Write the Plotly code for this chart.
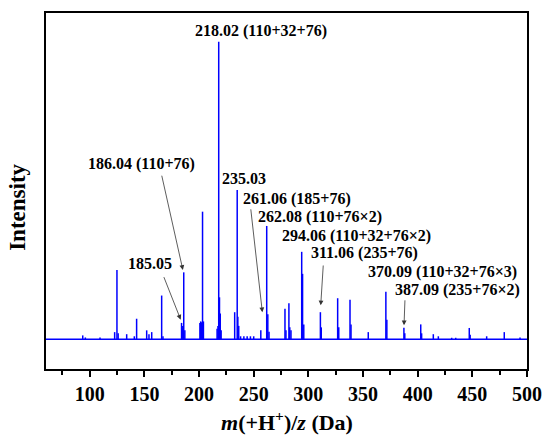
import plotly.graph_objects as go

# ---- data ----
peak_mz = [93.6, 96.0, 109.4, 122.8, 124.9, 126.0, 133.8, 140.8, 142.9, 152.1,
           154.2, 156.7, 165.8, 167.0, 184.0, 184.6, 185.4, 186.0, 187.0, 200.8,
           201.5, 202.2, 203.2, 204.0, 216.5, 217.3, 218.0, 218.7, 219.4, 220.2,
           232.6, 234.9, 235.5, 236.3, 238.0, 241.0, 244.0, 247.0, 250.0, 256.5,
           261.9, 262.9, 264.0, 278.6, 279.5, 282.2, 283.0, 284.1, 293.9, 294.7,
           295.8, 311.0, 311.8, 326.8, 327.8, 338.1, 339.0, 354.8, 370.9, 371.8,
           387.4, 388.2, 402.8, 403.6, 414.3, 418.9, 431.1, 434.8, 447.2, 448.0,
           463.1, 479.2, 493.6]
peak_int = [1.3, 0.6, 0.6, 2.4, 23.3, 2.0, 1.7, 1.0, 6.9, 3.0,
            1.7, 2.4, 14.7, 1.0, 5.5, 4.5, 3.5, 22.5, 3.0, 5.5,
            6.0, 5.7, 42.9, 6.0, 3.5, 4.5, 100.0, 14.1, 8.7, 3.0,
            9.1, 50.2, 7.6, 4.5, 1.0, 1.0, 1.0, 1.0, 1.0, 3.0,
            38.1, 8.4, 2.5, 10.3, 3.0, 12.1, 4.0, 3.0, 29.4, 22.0,
            5.0, 9.1, 4.0, 13.8, 4.0, 13.3, 5.0, 2.4, 16.0, 6.6,
            3.9, 2.0, 5.0, 2.0, 1.7, 1.0, 0.5, 0.5, 3.8, 1.5,
            1.0, 2.4, 0.6]

x_range = [60, 500]
y_range = [-10, 109.7]
tick_vals = [100, 150, 200, 250, 300, 350, 400, 450, 500]
tick_text = ["100", "150", "200", "250", "300", "350", "400", "450", "500"]

label_texts = ["218.02 (110+32+76)", "186.04 (110+76)", "235.03",
               "261.06 (185+76)", "262.08 (110+76×2)", "294.06 (110+32+76×2)",
               "311.06 (235+76)", "370.09 (110+32+76×3)", "387.09 (235+76×2)",
               "185.05"]

# ---- build stick spectrum ----
sx, sy = [], []
for m, i in zip(peak_mz, peak_int):
    sx += [m, m, None]
    sy += [0, i, None]

FONT = "Liberation Serif, Times New Roman, serif"
BLUE = "#0000FF"

fig = go.Figure()
fig.add_trace(go.Scatter(x=x_range, y=[0, 0], mode="lines",
                         line=dict(color=BLUE, width=1.5), hoverinfo="skip",
                         showlegend=False))
fig.add_trace(go.Scatter(x=sx, y=sy, mode="lines",
                         line=dict(color=BLUE, width=1.5), showlegend=False))

# text label positions (data coords)
label_pos = [(256.7, 103.7), (147.4, 58.9), (241.1, 54.2), (289.3, 47.2),
             (310.6, 41.1), (344.2, 34.8), (351.7, 28.9), (422.4, 22.6),
             (436.0, 16.6), (155.1, 25.6)]
annotations = []
for t, (ax_, ay_) in zip(label_texts, label_pos):
    annotations.append(dict(x=ax_, y=ay_, xref="x", yref="y", text=t,
                            showarrow=False, xanchor="center", yanchor="middle",
                            font=dict(family=FONT, size=16, color="black",
                                      weight="bold")))

# arrows: (tail x, tail y, head x, head y) in data coords
arrows = [(165.6, 55.5, 185.2, 23.3),
          (167.3, 21.4, 183.2, 6.6),
          (247.2, 44.2, 257.9, 9.1),
          (313.7, 25.3, 311.3, 11.4),
          (388.4, 13.6, 387.5, 4.7)]
for tx, ty, hx, hy in arrows:
    annotations.append(dict(x=hx, y=hy, ax=tx, ay=ty, xref="x", yref="y",
                            axref="x", ayref="y", text="", showarrow=True,
                            arrowhead=2, arrowsize=1.2, arrowwidth=0.8,
                            arrowcolor="#333333"))

# axis titles
annotations.append(dict(x=0.5, y=-0.145, xref="paper", yref="paper",
                        text="<i>m</i>(+H<sup>+</sup>)/<i>z</i> (Da)",
                        showarrow=False, xanchor="center", yanchor="middle",
                        font=dict(family=FONT, size=22, color="black",
                                  weight="bold")))
annotations.append(dict(x=-0.058, y=0.453, xref="paper", yref="paper",
                        text="Intensity", textangle=-90,
                        showarrow=False, xanchor="center", yanchor="middle",
                        font=dict(family=FONT, size=23, color="black",
                                  weight="bold")))

# page body has an 8px default margin, so the figure is 8px smaller
fig.update_layout(
    width=542, height=432,
    margin=dict(l=38, r=23, t=3, b=71),
    paper_bgcolor="white", plot_bgcolor="white",
    showlegend=False,
    annotations=annotations,
    xaxis=dict(range=x_range, showgrid=False, zeroline=False,
               showline=True, linecolor="black", linewidth=2, mirror=True,
               ticks="outside", ticklen=6, tickwidth=2, tickcolor="black",
               tickvals=tick_vals, ticktext=tick_text,
               tickfont=dict(family=FONT, size=20, color="black", weight="bold"),
               minor=dict(ticks="outside", ticklen=4, tickwidth=1.5,
                          tickcolor="black", tick0=0, dtick=25)),
    yaxis=dict(range=y_range, showgrid=False, zeroline=False,
               showline=True, linecolor="black", linewidth=2, mirror=True,
               ticks="", showticklabels=False),
)

fig.write_html("out.html")
